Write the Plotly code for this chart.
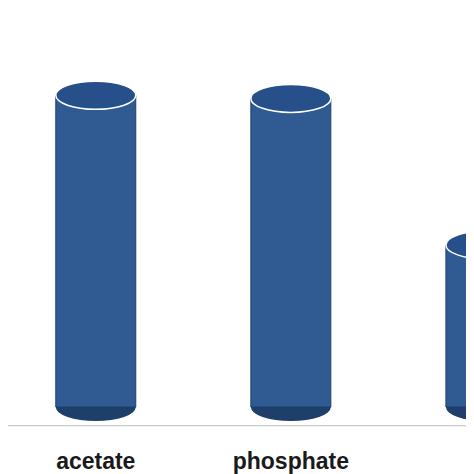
import plotly.graph_objects as go

categories = ["acetate", "phosphate", "citrate"]
values = [100, 99, 52]

xs = list(range(len(categories)))
fig = go.Figure()
fig.add_trace(go.Bar(x=xs, y=values, width=0.41,
                     marker=dict(color="#2F5B92", line=dict(color="#1E3F6A", width=1))))
ry = 4.5
for x, v in zip(xs, values):
    fig.add_shape(type="circle", xref="x", yref="y",
                  x0=x-0.205, x1=x+0.205, y0=v-ry, y1=v+ry,
                  fillcolor="#27508A", line=dict(color="white", width=1.5))
    fig.add_shape(type="circle", xref="x", yref="y", layer="below",
                  x0=x-0.205, x1=x+0.205, y0=-ry, y1=ry,
                  fillcolor="#1E3F6A", line=dict(width=0))
fig.add_shape(type="line", xref="paper", yref="y", x0=0, x1=1, y0=-6, y1=-6,
              line=dict(color="#BBBBBB", width=1))
fig.update_layout(
    width=474, height=474, margin=dict(l=0, r=0, t=0, b=50),
    plot_bgcolor="white", paper_bgcolor="white", showlegend=False,
    xaxis=dict(range=[-0.45, 1.98], tickvals=xs, ticktext=categories,
               showgrid=False, zeroline=False, ticks="outside", ticklen=8, tickcolor="white",
               tickfont=dict(family="Liberation Sans", size=23, color="#1A1A1A", weight="bold")),
    yaxis=dict(range=[-8, 128], visible=False),
)
fig.write_html("out.html")
